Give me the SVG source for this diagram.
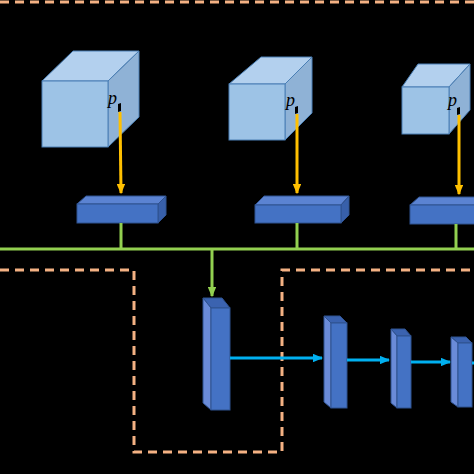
<svg xmlns="http://www.w3.org/2000/svg" width="474" height="474" viewBox="0 0 474 474">
<defs>
<style>
.dash{fill:none;stroke:#f4b183;stroke-width:3;stroke-dasharray:9,6}
.cf{fill:#9dc3e6;stroke:#4a7fb5;stroke-width:1}
.ct{fill:#b3d0ee;stroke:#4a7fb5;stroke-width:1}
.cr{fill:#8fb2d6;stroke:#4a7fb5;stroke-width:1}
.bf{fill:#4472c4;stroke:#2f528f;stroke-width:1}
.bt{fill:#5b83d2;stroke:#2f528f;stroke-width:1}
.br{fill:#3860aa;stroke:#2f528f;stroke-width:1}
.vl{fill:#6a8bd8;stroke:#2f528f;stroke-width:1}
.vt{fill:#3b63b0;stroke:#2f528f;stroke-width:1}
.ya{stroke:#ffc000;stroke-width:3;fill:none}
.gl{stroke:#92d050;stroke-width:3;fill:none}
.bl{stroke:#00b0f0;stroke-width:3;fill:none}
.p{font-family:"Liberation Serif","DejaVu Serif",serif;font-style:italic;font-size:18px;fill:#000}
</style>
<marker id="ay" markerWidth="3.4" markerHeight="2.8" refX="3" refY="1.4" orient="auto" markerUnits="strokeWidth"><path d="M0,0 L3.4,1.4 L0,2.8 z" fill="#ffc000"/></marker>
<marker id="ag" markerWidth="3.4" markerHeight="2.8" refX="3" refY="1.4" orient="auto" markerUnits="strokeWidth"><path d="M0,0 L3.4,1.4 L0,2.8 z" fill="#92d050"/></marker>
<marker id="ab" markerWidth="3.4" markerHeight="2.8" refX="3" refY="1.4" orient="auto" markerUnits="strokeWidth"><path d="M0,0 L3.4,1.4 L0,2.8 z" fill="#00b0f0"/></marker>
</defs>
<rect width="474" height="474" fill="#000"/>
<line class="dash" x1="0" y1="2" x2="474" y2="2"/>
<polyline class="dash" points="0,270 134,270 134,452 282,452 282,270 474,270"/>

<g id="cube1">
<polygon class="ct" points="42,81 73,51 139,51 108,81"/>
<polygon class="cr" points="108,81 139,51 139,117 108,147"/>
<rect class="cf" x="42" y="81" width="66" height="66"/>
<text class="p" x="108" y="104">p</text>
<polygon points="118,104 121,103 121,111 118,112" fill="#000"/>
</g>
<g id="cube2">
<polygon class="ct" points="229,84 261,57 312,57 285,84"/>
<polygon class="cr" points="285,84 312,57 312,113 285,140"/>
<rect class="cf" x="229" y="84" width="56" height="56"/>
<text class="p" x="286" y="106">p</text>
<polygon points="295,107 298,106 298,113 295,114" fill="#000"/>
</g>
<g id="cube3">
<polygon class="ct" points="402,87 418,64 470,64 449,87"/>
<polygon class="cr" points="449,87 470,64 470,110 449,134"/>
<rect class="cf" x="402" y="87" width="47" height="47"/>
<text class="p" x="448" y="106">p</text>
<polygon points="457,108 460,107 460,114 457,115" fill="#000"/>
</g>

<g id="box1">
<polygon class="bt" points="77,204 86,196 166,196 158,204"/>
<polygon class="br" points="158,204 166,196 166,215 158,223"/>
<rect class="bf" x="77" y="204" width="81" height="19"/>
</g>
<g id="box2">
<polygon class="bt" points="255,205 264,196 349,196 341,205"/>
<polygon class="br" points="341,205 349,196 349,215 341,223"/>
<rect class="bf" x="255" y="205" width="86" height="18"/>
</g>
<g id="box3">
<polygon class="bt" points="410,205 419,197 480,197 480,205"/>
<rect class="bf" x="410" y="205" width="70" height="19"/>
</g>

<g id="block1">
<polygon class="vt" points="203,298 222,298 230,308 211,308"/>
<polygon class="vl" points="203,298 211,308 211,410 203,403"/>
<rect class="bf" x="211" y="308" width="19" height="102"/>
</g>
<g id="block2">
<polygon class="vt" points="324,316 340,316 347,323 331,323"/>
<polygon class="vl" points="324,316 331,323 331,408 324,402"/>
<rect class="bf" x="331" y="323" width="16" height="85"/>
</g>
<g id="block3">
<polygon class="vt" points="391,329 405,329 411,336 397,336"/>
<polygon class="vl" points="391,329 397,336 397,408 391,403"/>
<rect class="bf" x="397" y="336" width="14" height="72"/>
</g>
<g id="block4">
<polygon class="vt" points="451,337 466,337 472,343 458,343"/>
<polygon class="vl" points="451,337 458,343 458,407 451,402"/>
<rect class="bf" x="458" y="343" width="14" height="64"/>
</g>

<g id="connectors">
<line class="ya" x1="120" y1="112" x2="121" y2="193" marker-end="url(#ay)"/>
<line class="ya" x1="297" y1="114" x2="297" y2="193" marker-end="url(#ay)"/>
<line class="ya" x1="459" y1="115" x2="459" y2="194" marker-end="url(#ay)"/>
<line class="gl" x1="121" y1="223" x2="121" y2="249"/>
<line class="gl" x1="297" y1="223" x2="297" y2="249"/>
<line class="gl" x1="456" y1="224" x2="456" y2="249"/>
<line class="gl" x1="0" y1="249" x2="474" y2="249"/>
<line class="gl" x1="212" y1="249" x2="212" y2="296" marker-end="url(#ag)"/>
<line class="bl" x1="230" y1="358" x2="322" y2="358" marker-end="url(#ab)"/>
<line class="bl" x1="347" y1="360" x2="389" y2="360" marker-end="url(#ab)"/>
<line class="bl" x1="411" y1="362" x2="450" y2="362" marker-end="url(#ab)"/>
<line class="bl" x1="472" y1="363" x2="480" y2="363"/>
</g>
</svg>
